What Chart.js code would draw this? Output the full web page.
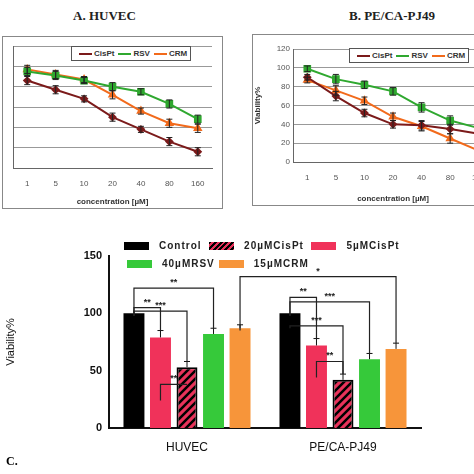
<!DOCTYPE html>
<html>
<head>
<meta charset="utf-8">
<script src="https://cdn.jsdelivr.net/npm/chart.js@4.4.1/dist/chart.umd.min.js"></script>
<style>
body { margin:0; width:474px; height:474px; position:relative; overflow:hidden; background:#fff; font-family:Arial, "Liberation Sans", sans-serif; }
.ttl { position:absolute; font-family:"Liberation Serif", serif; font-weight:bold; font-size:13px; color:#222; }
.frame { position:absolute; border:1px solid #888; background:#fff; overflow:hidden; }
.lg { position:absolute; border:1px solid #555; background:#fff; font-size:8px; font-weight:bold; color:#333; white-space:nowrap; padding:2px 3px; }
.lg span.k { display:inline-block; width:13px; height:2px; vertical-align:middle; margin:0 2px 0 4px; }
.blg { position:absolute; font-size:10px; font-weight:bold; color:#222; letter-spacing:1px; white-space:nowrap; }
.blg span.k { display:inline-block; width:25px; height:8px; vertical-align:middle; margin-right:10px; }
</style>
</head>
<body>
<div class="ttl" style="left:73px;top:8px">A. HUVEC</div>
<div class="ttl" style="left:349px;top:8px">B. PE/CA-PJ49</div>
<div class="frame" style="left:2px;top:36px;width:219px;height:171px"><canvas id="chartA"></canvas></div>
<div class="frame" style="left:252px;top:34px;width:260px;height:170px"><canvas id="chartB"></canvas></div>
<div class="lg" style="left:71px;top:46px">
<span class="k" style="background:#7b1a1a"></span>CisPt<span class="k" style="background:#2fa82f"></span>RSV<span class="k" style="background:#f26a1b"></span>CRM</div>
<div class="lg" style="left:349px;top:48px">
<span class="k" style="background:#7b1a1a"></span>CisPt<span class="k" style="background:#2fa82f"></span>RSV<span class="k" style="background:#f26a1b"></span>CRM</div>
<div style="position:absolute;left:0;top:230px;width:474px;height:244px"><canvas id="chartC"></canvas></div>
<div class="blg" style="left:124px;top:240px"><span class="k" style="background:#000"></span>Control&nbsp;&nbsp;<span class="k" id="hk" style="background:repeating-linear-gradient(135deg,#000 0 2px,#e8325a 2px 4px)"></span>20µMCisPt&nbsp;&nbsp;<span class="k" style="background:#f0325a"></span>5µMCisPt</div>
<div class="blg" style="left:127px;top:258px"><span class="k" style="background:#36c93a"></span>40µMRSV<span class="k" style="background:#f7953a;margin-left:4px"></span>15µMCRM</div>
<div style="position:absolute;left:6px;top:454px;font-family:'Liberation Serif',serif;font-weight:bold;font-size:12px">C.</div>
<script>
// valores
var conc = ['1', '5', '10', '20', '40', '80', '160']
var huvecCis = [86, 77, 68, 50, 38, 26, 16]
var huvecRsv = [95, 91, 86, 80, 75, 63, 48]
var huvecCrm = [97, 92, 87, 72, 56, 44, 39]
var huvecErr = [4, 4, 3, 4, 3, 4, 4]
var pjCis = [90, 70, 52, 40, 39, 35, 30]
var pjRsv = [99, 88, 82, 75, 58, 44, 36]
var pjCrm = [87, 76, 65, 48, 38, 25, 12]
var pjErr = [3, 5, 4, 4, 5, 5, 4]

var grupos = ['HUVEC', 'PE/CA-PJ49']
var control = [100, 100]
var cis5 = [79, 72]
var cis20 = [53, 42]
var rsv40 = [82, 60]
var crm15 = [87, 69]
var errC = [[0, 6, 5, 5, 3], [0, 6, 5, 5, 5]]

var rojo = '#7b1a1a', verde = '#2fa82f', naranja = '#f26a1b'

var errorBars = {
    id: 'errorBars',
    afterDatasetsDraw(chart, args, opts) {
        let c = chart.ctx
        c.save()
        chart.data.datasets.forEach((ds, i) => {
            if (!ds.err) return
            let meta = chart.getDatasetMeta(i)
            c.strokeStyle = opts.color || '#222'
            c.lineWidth = 1
            meta.data.forEach((p, j) => {
                let e = ds.err[j]
                if (!e) return
                let y1 = chart.scales.y.getPixelForValue(ds.data[j] + e)
                let y0 = chart.scales.y.getPixelForValue(opts.onlyUp ? ds.data[j] : ds.data[j] - e)
                c.beginPath()
                c.moveTo(p.x, y0); c.lineTo(p.x, y1)
                c.moveTo(p.x - 3, y1); c.lineTo(p.x + 3, y1)
                if (!opts.onlyUp) { c.moveTo(p.x - 3, y0); c.lineTo(p.x + 3, y0) }
                c.stroke()
            })
        })
        c.restore()
    }
}

function lineChart(id, cis, rsv, crm, err, yw, xh, pad, showY) {
    return new Chart(document.getElementById(id), {
        type: 'line',
        data: {
            labels: conc,
            datasets: [
                { label: 'CisPt', data: cis, err: err, borderColor: rojo, backgroundColor: rojo, pointStyle: 'rectRot', pointRadius: 3, borderWidth: 2 },
                { label: 'RSV', data: rsv, err: err, borderColor: verde, backgroundColor: verde, pointStyle: 'rect', pointRadius: 4, borderWidth: 2 },
                { label: 'CRM', data: crm, err: err, borderColor: naranja, backgroundColor: naranja, pointStyle: 'triangle', pointRadius: 3.5, borderWidth: 2 }
            ]
        },
        options: {
            responsive: false, animation: false,
            layout: { padding: pad },
            plugins: { legend: { display: false }, tooltip: { enabled: false }, errorBars: { color: '#222' } },
            scales: {
                x: {
                    offset: true,
                    grid: { display: false, drawTicks: true },
                    border: { color: '#666' },
                    ticks: { color: '#555', font: { size: 8 }, maxRotation: 0 },
                    title: { display: true, text: 'concentration [µM]', color: '#333', font: { size: 8, weight: 'bold' }, padding: 1 },
                    afterFit: s => { s.height = xh }
                },
                y: {
                    min: 0, max: 120,
                    ticks: { display: showY, stepSize: 20, color: '#555', font: { size: 8 } },
                    grid: { color: '#999', drawTicks: false },
                    border: { color: '#666' },
                    title: { display: showY, text: 'Viability%', color: '#333', font: { size: 8, weight: 'bold' }, padding: 0 },
                    afterFit: s => { s.width = yw }
                }
            }
        },
        plugins: [errorBars]
    })
}

var cA = document.getElementById('chartA'); cA.width = 219; cA.height = 171
var cB = document.getElementById('chartB'); cB.width = 260; cB.height = 170
lineChart('chartA', huvecCis, huvecRsv, huvecCrm, huvecErr, 10, 40, { top: 9, right: 10 }, false)
lineChart('chartB', pjCis, pjRsv, pjCrm, pjErr, 40, 43, { top: 14, right: 20 }, true)

// patron rayado para 20uM CisPt
var pc = document.createElement('canvas'); pc.width = 8; pc.height = 8
var px = pc.getContext('2d')
px.fillStyle = '#e8325a'; px.fillRect(0, 0, 8, 8)
px.strokeStyle = '#000'; px.lineWidth = 2.5
px.beginPath(); px.moveTo(-2, 2); px.lineTo(2, -2); px.moveTo(0, 8); px.lineTo(8, 0); px.moveTo(6, 10); px.lineTo(10, 6); px.stroke()
var rayas = document.getElementById('chartC').getContext('2d').createPattern(pc, 'repeat')

// corchetes de significancia: grupo, barra a, grupo b, barra b, altura, texto
var corchetes = [
    [0, 0, 0, 3, 122, '**'],
    [0, 0, 0, 1, 105, '**'],
    [0, 0, 0, 2, 102, '***'],
    [0, 1, 0, 2, 38, '**'],
    [0, 4, 1, 4, 132, '*'],
    [1, 0, 1, 1, 114, '**'],
    [1, 0, 1, 3, 110, '***'],
    [1, 0, 1, 2, 89, '***'],
    [1, 1, 1, 2, 58, '**']
]

var brackets = {
    id: 'brackets',
    afterDatasetsDraw(chart) {
        let c = chart.ctx, y = chart.scales.y
        c.save()
        c.strokeStyle = '#222'; c.lineWidth = 1.2; c.fillStyle = '#222'
        c.font = 'bold 9px Arial'; c.textAlign = 'center'
        corchetes.forEach(b => {
            let xa = chart.getDatasetMeta(b[1]).data[b[0]].x
            let xb = chart.getDatasetMeta(b[3]).data[b[2]].x
            let yy = y.getPixelForValue(b[4])
            let ya = y.getPixelForValue(Math.min(b[4], chart.data.datasets[b[1]].data[b[0]]) - 2)
            let yb = y.getPixelForValue(Math.min(b[4], chart.data.datasets[b[3]].data[b[2]] + errC[b[2]][b[3]]))
            if (b[4] < 60) { ya = y.getPixelForValue(b[4] - 14) }
            c.beginPath()
            c.moveTo(xa, ya); c.lineTo(xa, yy); c.lineTo(xb, yy); c.lineTo(xb, yb)
            c.stroke()
            c.fillText(b[5], (xa + xb) / 2, yy - 3)
        })
        c.restore()
    }
}

var cC = document.getElementById('chartC'); cC.width = 474; cC.height = 244
new Chart(cC, {
    type: 'bar',
    data: {
        labels: grupos,
        datasets: [
            { label: 'Control', data: control, err: [0, 0], backgroundColor: '#000' },
            { label: '5µMCisPt', data: cis5, err: errC.map(e => e[1]), backgroundColor: '#f0325a' },
            { label: '20µMCisPt', data: cis20, err: errC.map(e => e[2]), backgroundColor: rayas, borderColor: '#000', borderWidth: 2 },
            { label: '40µMRSV', data: rsv40, err: errC.map(e => e[3]), backgroundColor: '#36c93a' },
            { label: '15µMCRM', data: crm15, err: errC.map(e => e[4]), backgroundColor: '#f7953a' }
        ]
    },
    options: {
        responsive: false, animation: false,
        layout: { padding: { top: 26, right: 53, left: 0 } },
        datasets: { bar: { categoryPercentage: 0.85, barPercentage: 0.79 } },
        plugins: { legend: { display: false }, tooltip: { enabled: false }, errorBars: { color: '#111', onlyUp: true } },
        scales: {
            x: {
                grid: { display: false },
                border: { color: '#111', width: 2 },
                ticks: { color: '#111', font: { size: 12 }, padding: 4 },
                afterFit: s => { s.height = 46 }
            },
            y: {
                min: 0, max: 150,
                ticks: { stepSize: 50, color: '#111', font: { size: 11, weight: 'bold' } },
                grid: { display: false, drawTicks: true, tickLength: 4, tickColor: '#111' },
                border: { color: '#111', width: 2 },
                title: { display: true, text: 'Viability%', color: '#111', font: { size: 11 } },
                afterFit: s => { s.width = 109 }
            }
        }
    },
    plugins: [errorBars, brackets]
})
</script>
</body>
</html>
